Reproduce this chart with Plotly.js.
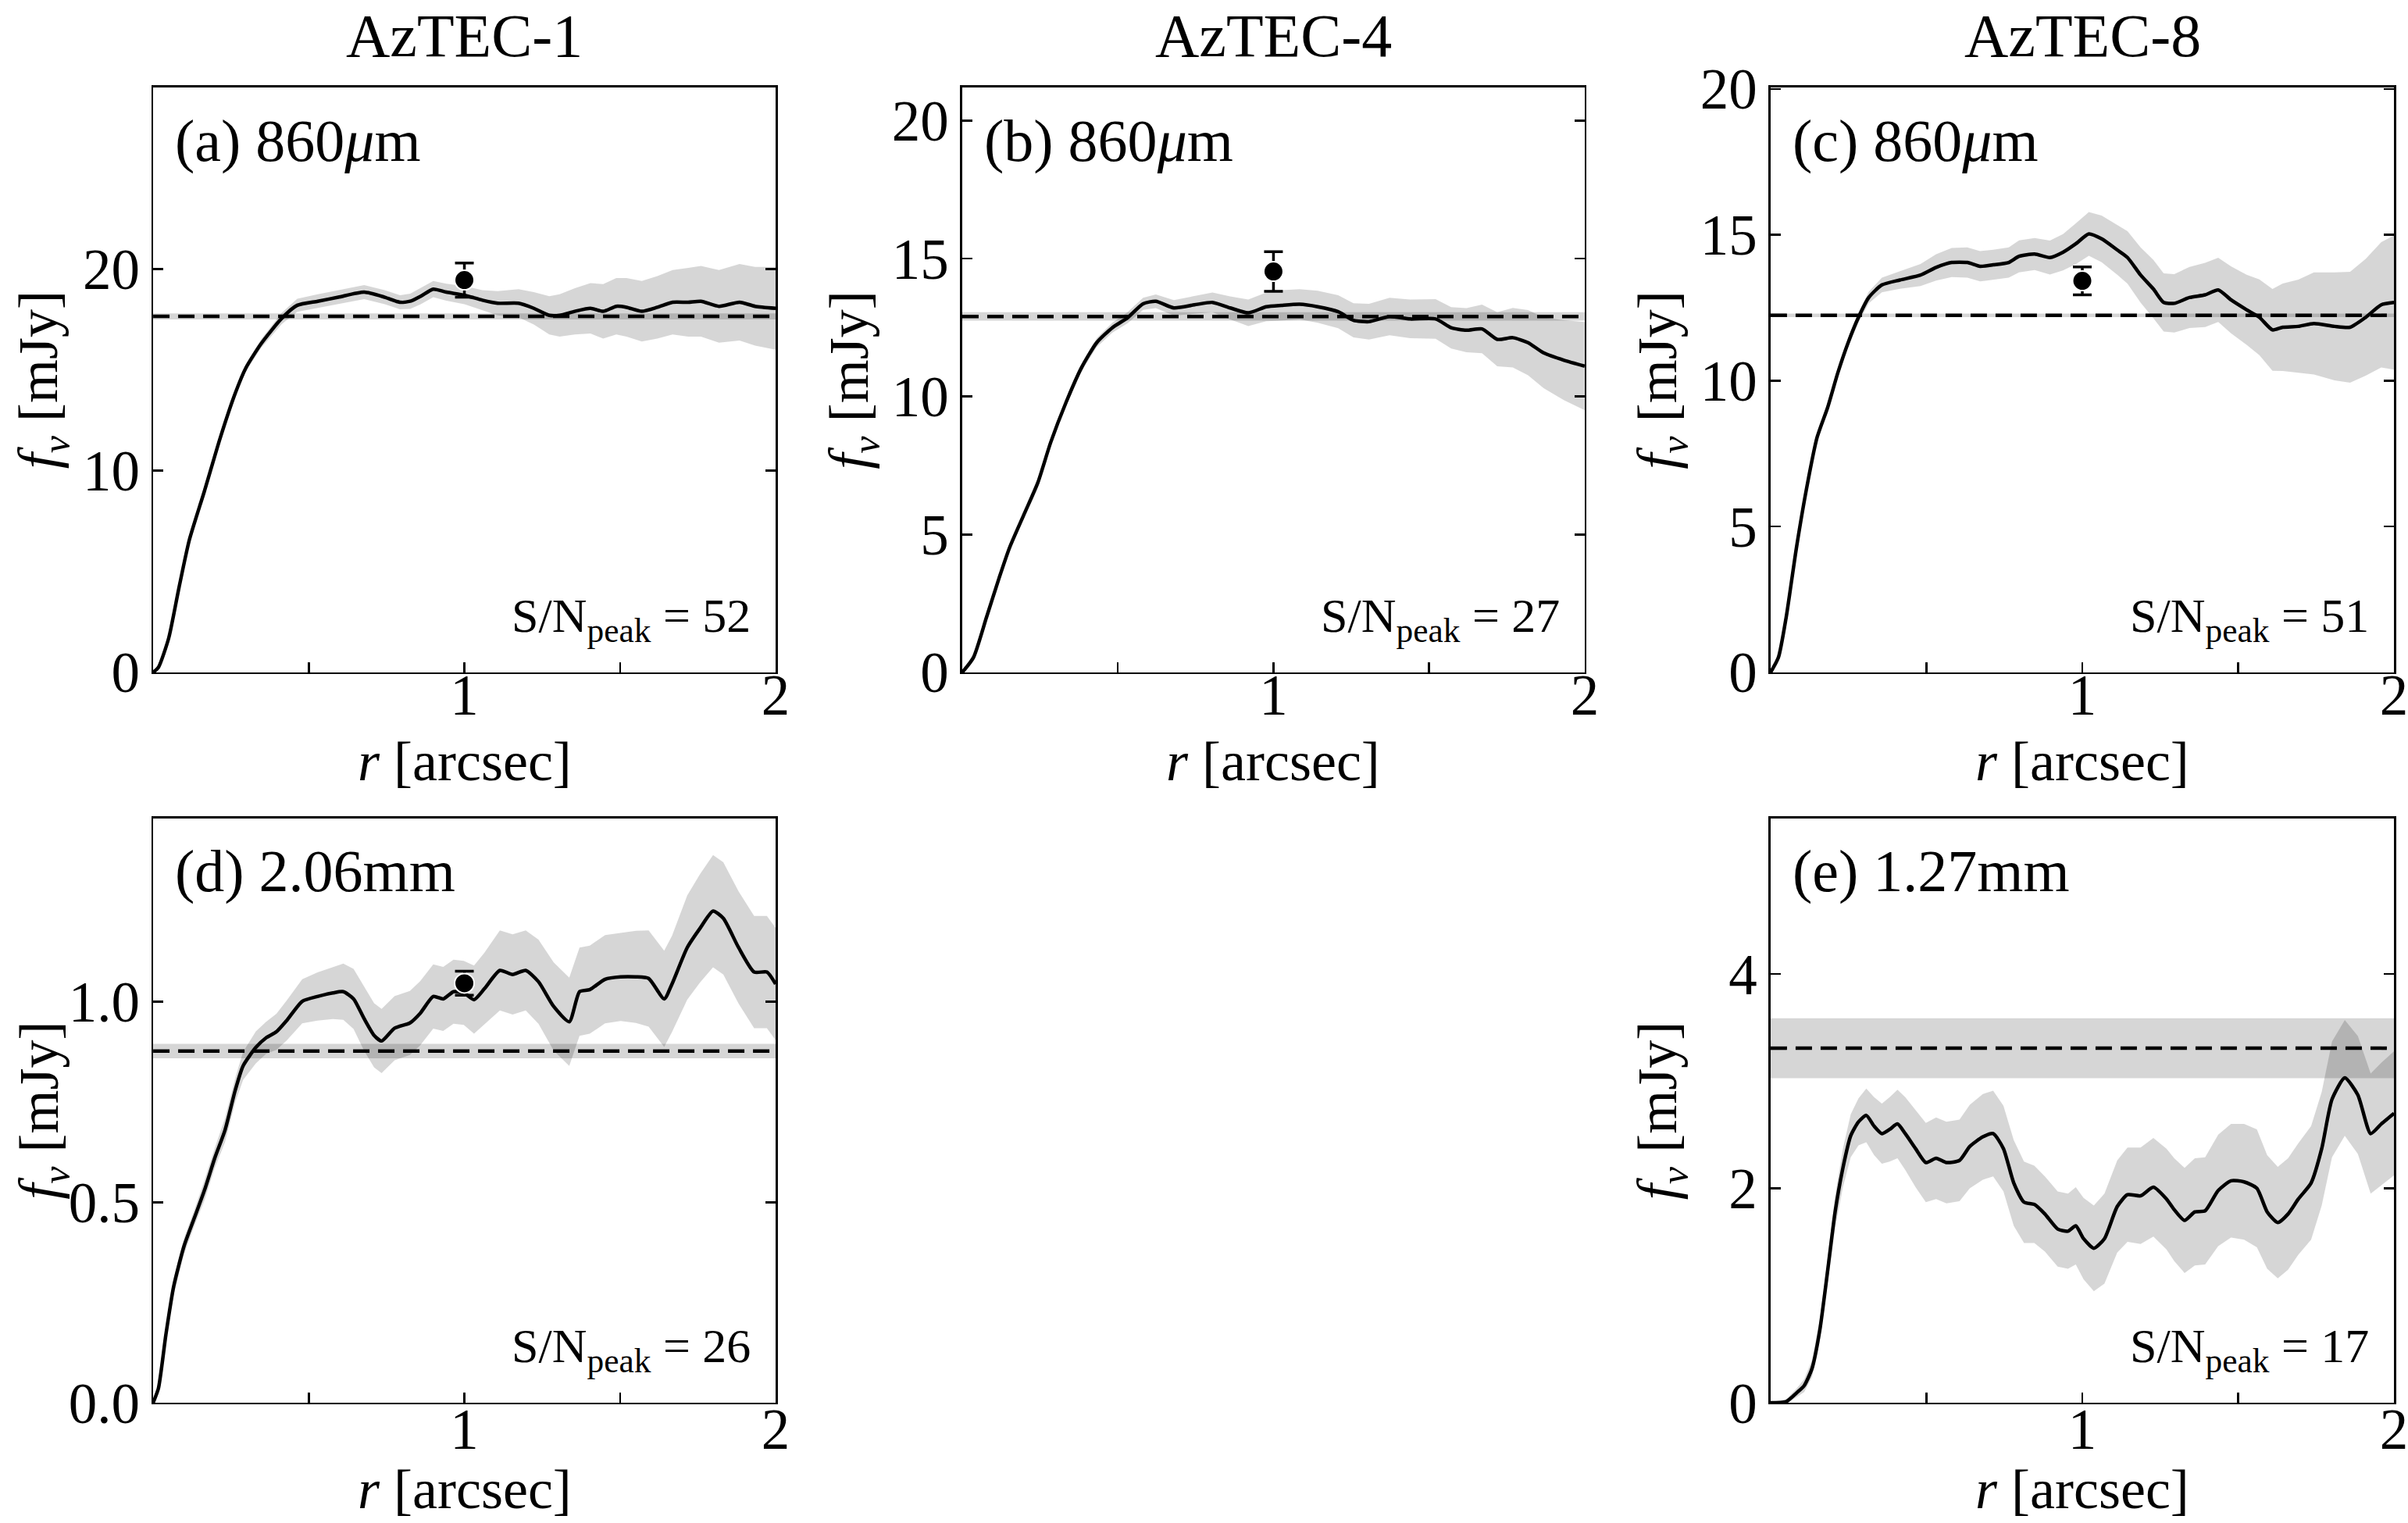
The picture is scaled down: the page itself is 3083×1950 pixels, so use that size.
<!DOCTYPE html>
<html>
<head>
<meta charset="utf-8">
<script src="https://cdn.plot.ly/plotly-3.0.1.min.js"></script>
<style>html,body{margin:0;padding:0;background:#fff}</style>
</head>
<body>
<div id="chart" style="width:3083px;height:1950px"></div>
<script>
// Radial cumulative flux profiles f_nu(r) with 1-sigma bands,
// total flux (dashed) with its uncertainty, and the r = 1" aperture flux.

// ---------- (a) AzTEC-1, 860um ----------
const rA = [0, 0.017, 0.05, 0.083, 0.116, 0.165, 0.215, 0.264, 0.298, 0.347, 0.413, 0.463, 0.529, 0.595, 0.678, 0.744, 0.793, 0.826, 0.86, 0.9, 0.942, 1.0, 1.058, 1.107, 1.174, 1.223, 1.273, 1.306, 1.355, 1.405, 1.446, 1.488, 1.521, 1.57, 1.62, 1.669, 1.719, 1.76, 1.818, 1.884, 1.934, 2.0];
const fA = [0, 0.25, 1.7, 4.2, 6.55, 9.0, 11.6, 13.85, 15.1, 16.3, 17.55, 18.2, 18.4, 18.6, 18.85, 18.6, 18.35, 18.4, 18.65, 19.0, 18.85, 18.7, 18.45, 18.3, 18.3, 18.05, 17.7, 17.7, 17.9, 18.05, 17.9, 18.15, 18.1, 17.9, 18.1, 18.35, 18.35, 18.4, 18.15, 18.35, 18.15, 18.05];
const errA = [0.02, 0.03, 0.05, 0.07, 0.08, 0.1, 0.12, 0.15, 0.18, 0.22, 0.28, 0.32, 0.35, 0.35, 0.35, 0.35, 0.35, 0.38, 0.4, 0.4, 0.42, 0.45, 0.5, 0.6, 0.7, 0.8, 0.95, 1.05, 1.15, 1.25, 1.35, 1.4, 1.45, 1.5, 1.55, 1.6, 1.7, 1.75, 1.8, 1.9, 1.95, 2.05];
const totA = [17.65, 0.15];          // total flux, uncertainty
const apA = [19.45, 0.85];           // aperture flux at r = 1", uncertainty

// ---------- (b) AzTEC-4, 860um ----------
const rB = [0, 0.036, 0.078, 0.119, 0.152, 0.201, 0.243, 0.284, 0.333, 0.383, 0.432, 0.482, 0.531, 0.581, 0.622, 0.68, 0.746, 0.804, 0.861, 0.919, 0.977, 1.026, 1.084, 1.142, 1.208, 1.257, 1.307, 1.373, 1.439, 1.521, 1.571, 1.62, 1.67, 1.719, 1.769, 1.818, 1.868, 1.934, 2.0];
const fB = [0, 0.54, 2.0, 3.44, 4.52, 5.79, 6.88, 8.33, 9.77, 11.04, 11.95, 12.49, 12.85, 13.36, 13.45, 13.21, 13.32, 13.41, 13.21, 13.03, 13.25, 13.30, 13.34, 13.25, 13.07, 12.76, 12.71, 12.9, 12.81, 12.81, 12.49, 12.4, 12.45, 12.07, 12.13, 11.95, 11.58, 11.31, 11.1];
const errB = [0.02, 0.03, 0.05, 0.06, 0.07, 0.08, 0.09, 0.1, 0.12, 0.14, 0.16, 0.18, 0.2, 0.22, 0.25, 0.28, 0.32, 0.36, 0.42, 0.48, 0.52, 0.55, 0.55, 0.58, 0.6, 0.62, 0.65, 0.68, 0.7, 0.72, 0.75, 0.8, 0.88, 0.98, 1.08, 1.18, 1.28, 1.45, 1.6];
const totB = [12.9, 0.15];
const apB = [14.53, 0.72];

// ---------- (c) AzTEC-8, 860um ----------
const rC = [0, 0.025, 0.05, 0.083, 0.116, 0.149, 0.183, 0.216, 0.249, 0.282, 0.315, 0.357, 0.415, 0.481, 0.531, 0.581, 0.631, 0.672, 0.714, 0.764, 0.797, 0.847, 0.896, 0.938, 0.979, 1.021, 1.062, 1.112, 1.145, 1.187, 1.228, 1.261, 1.295, 1.344, 1.394, 1.436, 1.477, 1.527, 1.568, 1.61, 1.643, 1.693, 1.743, 1.809, 1.859, 1.909, 1.959, 2.0];
const fC = [0, 0.51, 1.89, 4.28, 6.34, 8.05, 9.08, 10.28, 11.31, 12.17, 12.85, 13.28, 13.45, 13.62, 13.88, 14.05, 14.05, 13.92, 13.97, 14.05, 14.26, 14.34, 14.22, 14.4, 14.69, 15.03, 14.86, 14.48, 14.22, 13.62, 13.14, 12.68, 12.65, 12.85, 12.94, 13.11, 12.77, 12.43, 12.17, 11.74, 11.83, 11.86, 11.96, 11.86, 11.83, 12.17, 12.6, 12.68];
const errC = [0.02, 0.03, 0.05, 0.07, 0.08, 0.1, 0.12, 0.14, 0.16, 0.18, 0.2, 0.25, 0.3, 0.38, 0.45, 0.5, 0.52, 0.52, 0.52, 0.52, 0.55, 0.55, 0.58, 0.62, 0.7, 0.75, 0.8, 0.85, 0.9, 0.95, 1.0, 1.0, 1.0, 1.05, 1.1, 1.1, 1.15, 1.2, 1.3, 1.4, 1.5, 1.6, 1.75, 1.85, 1.9, 2.0, 2.15, 2.3];
const totC = [12.24, 0.06];
const apC = [13.42, 0.48];

// ---------- (d) AzTEC-1, 2.06mm ----------
const rD = [0, 0.017, 0.041, 0.066, 0.099, 0.132, 0.165, 0.198, 0.231, 0.264, 0.289, 0.33, 0.363, 0.396, 0.429, 0.479, 0.528, 0.578, 0.611, 0.644, 0.677, 0.71, 0.734, 0.776, 0.825, 0.858, 0.9, 0.932, 0.965, 0.998, 1.031, 1.064, 1.114, 1.155, 1.197, 1.238, 1.287, 1.337, 1.37, 1.403, 1.452, 1.502, 1.551, 1.592, 1.642, 1.667, 1.716, 1.757, 1.799, 1.832, 1.881, 1.931, 1.972, 2.0];
const fD = [0, 0.036, 0.17, 0.29, 0.39, 0.46, 0.53, 0.61, 0.68, 0.78, 0.84, 0.886, 0.91, 0.925, 0.953, 1.001, 1.013, 1.022, 1.025, 1.007, 0.959, 0.916, 0.902, 0.934, 0.947, 0.971, 1.013, 1.007, 1.025, 1.022, 1.005, 1.032, 1.078, 1.068, 1.078, 1.05, 0.988, 0.95, 1.025, 1.03, 1.056, 1.062, 1.062, 1.058, 1.007, 1.044, 1.135, 1.183, 1.226, 1.208, 1.135, 1.074, 1.074, 1.044];
const errD = [0.005, 0.01, 0.015, 0.02, 0.02, 0.02, 0.025, 0.025, 0.03, 0.03, 0.035, 0.04, 0.04, 0.045, 0.05, 0.055, 0.06, 0.065, 0.07, 0.075, 0.08, 0.08, 0.08, 0.08, 0.08, 0.08, 0.08, 0.08, 0.08, 0.08, 0.085, 0.09, 0.1, 0.1, 0.1, 0.105, 0.11, 0.11, 0.11, 0.11, 0.11, 0.11, 0.115, 0.12, 0.12, 0.12, 0.13, 0.135, 0.14, 0.14, 0.14, 0.14, 0.14, 0.14];
const totD = [0.877, 0.018];
const apD = [1.046, 0.03];

// ---------- (e) AzTEC-8, 1.27mm ----------
const rE = [0, 0.05, 0.083, 0.108, 0.133, 0.158, 0.183, 0.207, 0.232, 0.257, 0.282, 0.307, 0.332, 0.357, 0.382, 0.407, 0.432, 0.465, 0.498, 0.531, 0.564, 0.606, 0.639, 0.681, 0.714, 0.747, 0.78, 0.813, 0.846, 0.88, 0.921, 0.954, 0.979, 1.004, 1.037, 1.071, 1.112, 1.145, 1.187, 1.228, 1.27, 1.295, 1.328, 1.361, 1.394, 1.436, 1.477, 1.519, 1.56, 1.593, 1.627, 1.66, 1.693, 1.734, 1.768, 1.801, 1.842, 1.884, 1.925, 1.959, 2.0];
const fE = [0, 0.01, 0.09, 0.16, 0.32, 0.68, 1.23, 1.78, 2.19, 2.49, 2.62, 2.68, 2.58, 2.51, 2.55, 2.6, 2.51, 2.37, 2.24, 2.28, 2.24, 2.26, 2.39, 2.48, 2.51, 2.37, 2.05, 1.87, 1.85, 1.76, 1.62, 1.60, 1.65, 1.53, 1.44, 1.53, 1.83, 1.94, 1.93, 2.01, 1.9, 1.8, 1.7, 1.78, 1.79, 1.98, 2.07, 2.06, 2.0, 1.78, 1.68, 1.76, 1.9, 2.05, 2.37, 2.83, 3.03, 2.87, 2.51, 2.6, 2.7];
const errE = [0.01, 0.02, 0.04, 0.06, 0.08, 0.1, 0.12, 0.15, 0.18, 0.2, 0.22, 0.25, 0.27, 0.28, 0.3, 0.32, 0.34, 0.36, 0.37, 0.38, 0.38, 0.38, 0.39, 0.4, 0.4, 0.4, 0.4, 0.38, 0.36, 0.35, 0.35, 0.35, 0.36, 0.38, 0.4, 0.42, 0.43, 0.44, 0.45, 0.46, 0.47, 0.48, 0.49, 0.5, 0.5, 0.52, 0.53, 0.54, 0.55, 0.53, 0.52, 0.52, 0.52, 0.53, 0.53, 0.54, 0.54, 0.55, 0.56, 0.57, 0.58];
const totE = [3.307, 0.28];

// Shared axis extent and labels
const rSpan = [0, 2];
const rMajorTicks = [1, 2];
const rMinorTicks = [0.5, 1.5];
const sources = ['AzTEC-1', 'AzTEC-4', 'AzTEC-8'];
const panelLabels = ['(a) 860<i>μ</i>m', '(b) 860<i>μ</i>m', '(c) 860<i>μ</i>m', '(d) 2.06mm', '(e) 1.27mm'];
const snPeak = [52, 27, 51, 26, 17];
const xTitle = '<i>r</i> [arcsec]';
const yTitle = '<i>f</i><sub><i>ν</i></sub> [mJy]';

const FONT = 'Liberation Serif, Times New Roman, Times, serif';
const BAND = 'rgba(0,0,0,0.16)';

function panelTraces(n, r, f, err, tot, ap) {
  const xa = n === 1 ? 'x' : 'x' + n;
  const ya = n === 1 ? 'y' : 'y' + n;
  const upper = f.map((v, i) => v + err[i]);
  const lower = f.map((v, i) => v - err[i]);
  const traces = [
    { // 1-sigma band of the profile
      type: 'scatter', mode: 'lines', xaxis: xa, yaxis: ya,
      x: r.concat(r.slice().reverse()),
      y: upper.concat(lower.slice().reverse()),
      fill: 'toself', fillcolor: BAND, line: { width: 0 }, hoverinfo: 'skip'
    },
    { // uncertainty on the total flux
      type: 'scatter', mode: 'lines', xaxis: xa, yaxis: ya,
      x: [rSpan[0], rSpan[1], rSpan[1], rSpan[0]],
      y: [tot[0] - tot[1], tot[0] - tot[1], tot[0] + tot[1], tot[0] + tot[1]],
      fill: 'toself', fillcolor: BAND, line: { width: 0 }, hoverinfo: 'skip'
    },
    { // total flux
      type: 'scatter', mode: 'lines', xaxis: xa, yaxis: ya,
      x: rSpan, y: [tot[0], tot[0]],
      line: { color: '#000', width: 4.5, dash: '21px,11px' }
    },
    { // radial profile
      type: 'scatter', mode: 'lines', xaxis: xa, yaxis: ya,
      x: r, y: f,
      line: { color: '#000', width: 4.5, shape: 'spline', smoothing: 0.6 }
    }
  ];
  if (ap) {
    traces.push({ // aperture flux at r = 1"
      type: 'scatter', mode: 'markers', xaxis: xa, yaxis: ya,
      x: [1], y: [ap[0]],
      error_y: { type: 'data', array: [ap[1]], color: '#000', thickness: 3.5, width: 12 },
      marker: { color: '#000', size: 25, line: { color: '#fff', width: 2 } }
    });
  }
  return traces;
}

const data = [].concat(
  panelTraces(1, rA, fA, errA, totA, apA),
  panelTraces(2, rB, fB, errB, totB, apB),
  panelTraces(3, rC, fC, errC, totC, apC),
  panelTraces(4, rD, fD, errD, totD, apD),
  panelTraces(5, rE, fE, errE, totE, null)
);

// Panel placement (paper fractions)
const colX = [[0.0636, 0.3221], [0.3996, 0.6581], [0.7353, 0.9942]];
const rowY = [[0.5585, 0.9426], [0.0790, 0.4626]];
const yTitleX = [0.0178, 0.3543, 0.6900];   // y-title centres, per column
const xTitleY = [0.500, 0.022];              // x-title centres, per row
const xLabelShift = [-36, -31];              // tick-label offset, per row

const frame = {
  showgrid: false, zeroline: false, showline: true, linecolor: '#000', linewidth: 2.5,
  ticks: 'inside', ticklen: 13, tickwidth: 2.5, tickcolor: '#000',
  tickfont: { family: FONT, size: 73, color: '#000' }
};
function xAxis(col, row, anchor) {
  return Object.assign({}, frame, {
    domain: colX[col], anchor: anchor, range: rSpan, mirror: true,
    tickmode: 'array', tickvals: rMajorTicks,
    minor: { tickmode: 'array', tickvals: rMinorTicks, ticks: 'inside', ticklen: 13, tickwidth: 2.5, tickcolor: '#000', showgrid: false },
    ticklabelstandoff: xLabelShift[row], ticklabeloverflow: 'allow'
  });
}
function yAxis(row, anchor, range, dtick, fmt) {
  return Object.assign({}, frame, {
    domain: rowY[row], anchor: anchor, range: range, mirror: 'ticks',
    tick0: 0, dtick: dtick, tickformat: fmt
  });
}

const annotations = [];
const axNames = ['', '2', '3', '4', '5'];
const panelCol = [0, 1, 2, 0, 2];
const panelRow = [0, 0, 0, 1, 1];
axNames.forEach((s, i) => {
  annotations.push({
    xref: 'x' + s + ' domain', yref: 'y' + s + ' domain', x: 0.033, y: 0.909,
    xanchor: 'left', yanchor: 'middle', showarrow: false, text: panelLabels[i],
    font: { family: FONT, size: 76, color: '#000' }
  });
  annotations.push({
    xref: 'x' + s + ' domain', yref: 'y' + s + ' domain', x: 0.962, y: 0.092,
    xanchor: 'right', yanchor: 'middle', showarrow: false,
    text: 'S/N<sub>peak</sub> = ' + snPeak[i],
    font: { family: FONT, size: 62, color: '#000' }
  });
  annotations.push({ // x-axis title
    xref: 'x' + s + ' domain', yref: 'paper', x: 0.5, y: xTitleY[panelRow[i]],
    xanchor: 'center', yanchor: 'middle', showarrow: false, text: xTitle,
    font: { family: FONT, size: 72, color: '#000' }
  });
  annotations.push({ // y-axis title
    xref: 'paper', yref: 'y' + s + ' domain', x: yTitleX[panelCol[i]], y: 0.5,
    xanchor: 'center', yanchor: 'middle', textangle: -90, showarrow: false, text: yTitle,
    font: { family: FONT, size: 72, color: '#000' }
  });
});
sources.forEach((name, i) => {
  annotations.push({
    xref: 'x' + axNames[i] + ' domain', yref: 'paper', x: 0.5, y: 1,
    xanchor: 'center', yanchor: 'top', showarrow: false, text: name,
    font: { family: FONT, size: 78, color: '#000' }
  });
});

const layout = {
  width: 3083, height: 1950,
  margin: { l: 0, r: 0, t: 0, b: 0 },
  paper_bgcolor: '#fff', plot_bgcolor: '#fff',
  showlegend: false,
  font: { family: FONT, color: '#000' },
  xaxis: xAxis(0, 0, 'y'),
  yaxis: yAxis(0, 'x', [0, 29], 10, 'd'),
  xaxis2: xAxis(1, 0, 'y2'),
  yaxis2: yAxis(0, 'x2', [0, 21.2], 5, 'd'),
  xaxis3: xAxis(2, 0, 'y3'),
  yaxis3: yAxis(0, 'x3', [0, 20.05], 5, 'd'),
  xaxis4: xAxis(0, 1, 'y4'),
  yaxis4: yAxis(1, 'x4', [0, 1.457], 0.5, '.1f'),
  xaxis5: xAxis(2, 1, 'y5'),
  yaxis5: yAxis(1, 'x5', [0, 5.45], 2, 'd'),
  annotations: annotations
};

Plotly.newPlot('chart', data, layout, { staticPlot: true, displayModeBar: false });
</script>
</body>
</html>
